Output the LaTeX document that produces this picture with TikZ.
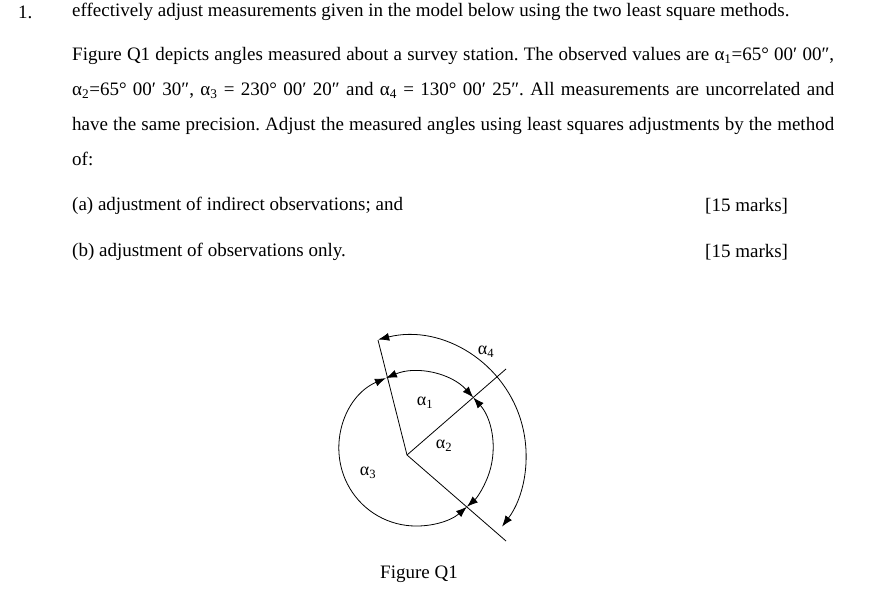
\documentclass[tikz,border=0pt]{standalone}
\usepackage{fontspec}
\setmainfont{Liberation Serif}
\usetikzlibrary{arrows.meta}
\begin{document}
\frenchspacing
\begin{tikzpicture}[x=1pt,y=-1pt,
  txt/.style={anchor=west,inner sep=0pt,font=\fontsize{19}{23}\selectfont},
  lbl/.style={inner sep=0pt,font=\fontsize{18}{21}\selectfont},
  arr/.style={{Latex[length=11pt,width=8pt]}-{Latex[length=11pt,width=8pt]}},
  ln/.style={line width=0.8pt}]
\useasboundingbox (0,0) rectangle (875,599);
\fill[white] (0,0) rectangle (875,599);
\node[txt] (num) at (18,12) {1.};
\node[txt] (l0) at (72,12) {effectively adjust measurements given in the model below using the two least square methods.};
\node[txt,anchor=north west,text width=762pt,align=justify,font=\fontsize{19}{35}\selectfont] (para) at (72,47)
 {Figure Q1 depicts angles measured about a survey station. The observed values are α\textsubscript{1}=65° 00′ 00″,\linebreak
 α\textsubscript{2}=65° 00′ 30″, α\textsubscript{3} = 230° 00′ 20″ and α\textsubscript{4} = 130° 00′ 25″. All measurements are uncorrelated and\linebreak
 have the same precision. Adjust the measured angles using least squares adjustments by the method\linebreak
 of:};
\node[txt] (a) at (72,206) {(a) adjustment of indirect observations; and};
\node[txt] (am) at (705,206) {[15 marks]};
\node[txt] (b) at (72,252) {(b) adjustment of observations only.};
\node[txt] (bm) at (705,252) {[15 marks]};
% figure
\coordinate (V) at (407,455);
\coordinate (E1) at (378,340);
\coordinate (E2) at (506,369);
\coordinate (E3) at (506,541);
\draw[ln] (V) -- (E1);
\draw[ln] (V) -- (E2);
\draw[ln] (V) -- (E3);
\coordinate (C) at (416,449);
\draw[ln,arr] ([shift={(113:77 and -77)}]C) arc[start angle=-113,end angle=-42,radius=77];
\draw[ln,arr] ([shift={(42:77 and -77)}]C) arc[start angle=-42,end angle=48.6,radius=77];
\draw[ln,arr] ([shift={(113:77 and -77)}]C) arc[start angle=-113,end angle=-311.4,radius=77];
\draw[ln,arr] ([shift={(104:119 and -119)}]V) arc[start angle=-104,end angle=37,radius=119];
\node[lbl] (a4) at (486,352) {α\textsubscript{4}};
\node[lbl] (a1) at (425,403) {α\textsubscript{1}};
\node[lbl] (a2) at (444,446) {α\textsubscript{2}};
\node[lbl] (a3) at (368,473) {α\textsubscript{3}};
\node[txt,anchor=center] (cap) at (419,574) {Figure Q1};
\end{tikzpicture}
\end{document}
